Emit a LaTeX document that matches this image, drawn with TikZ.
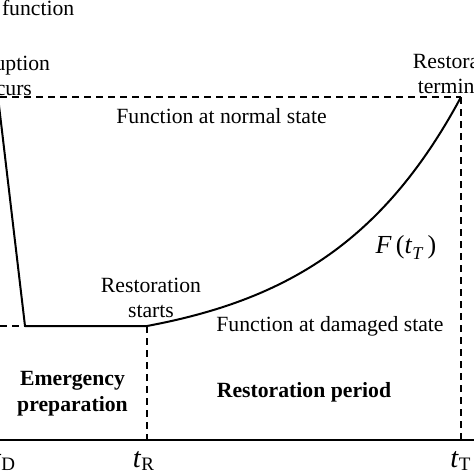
\documentclass[tikz,border=0pt]{standalone}
\usepackage{fontspec}
\setmainfont{Liberation Serif}
\usetikzlibrary{positioning}
\newcommand{\tsub}[1]{\textit{t}\raisebox{-0.14em}{\fontsize{19}{19}\selectfont #1}}
\tikzset{
  lbl/.style={font=\fontsize{21.7}{25}\selectfont, inner sep=0pt, align=center, anchor=base},
  phase/.style={lbl, font=\fontsize{21.7}{25.7}\selectfont\bfseries},
  ticklbl/.style={lbl, font=\fontsize{28.5}{30}\selectfont},
  guide/.style={line width=1.4pt, dash pattern=on 7pt off 5pt},
  solidline/.style={line width=2pt}
}

\begin{document}
\begin{tikzpicture}[x=1pt,y=-1pt]
  \def\yN{97} \def\yD{326} \def\yA{440}
  \useasboundingbox (0,0) rectangle (474,474);
  \clip (0,0) rectangle (474,474);
  \coordinate (nL) at (0,\yN);
  \coordinate (dL) at (0,\yD);
  \coordinate (tD) at (-2,\yN);
  \coordinate (dmg) at (25,\yD);
  \coordinate (tR) at (147,\yD);
  \coordinate (tT) at (461,\yN);
  \coordinate (axL) at (0,\yA);
  \coordinate (axR) at (480,\yA);
  \draw[guide] (nL) -- (tT);
  \draw[guide] (dL) -- (dmg);
  \draw[guide] (tR) -- (tR |- axL);
  \draw[guide] (tT) -- (tT |- axL);
  \draw[solidline] (axL) -- (axR);
  \draw[solidline,line join=round] (tD) -- (dmg) -- (tR);
  \draw[solidline] plot[domain=0:1,samples=80] ({147+314*\x},{\yD-229*(exp(2.3*\x)-1)/8.974});
  \node[lbl] (ylab) at (3.5,15) {System function};
  \node[lbl] (disr) at (3.6,95) {Disruption\\occurs};
  \node[lbl] (rterm) at (463,93) {Restoration\\terminates};
  \node[lbl] (normal) at (221.5,123) {Function at normal state};
  \node[lbl] (rstart) at (151,317) {Restoration\\starts};
  \node[lbl] (damaged) at (330,331) {Function at damaged state};
  \node[lbl,font=\fontsize{26}{28}\selectfont] (ftt) at (406,253) {\textit{F\,}(\textit{t}\raisebox{-0.25em}{\fontsize{18}{18}\selectfont\textit{T}}\,)};
  \node[phase] (emerg) at (72.5,411.5) {Emergency\\preparation};
  \node[phase] (rperiod) at (304,397) {Restoration period};
  \node[ticklbl] (lD) at (4,467) {\tsub{D}};
  \node[ticklbl] (lR) at (143.5,467) {\tsub{R}};
  \node[ticklbl] (lT) at (460.5,467) {\tsub{T}};
\end{tikzpicture}
\end{document}
